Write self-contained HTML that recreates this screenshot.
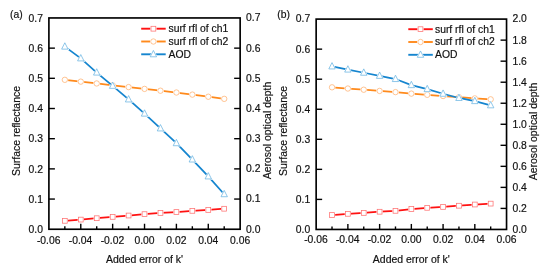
<!DOCTYPE html>
<html><head><meta charset="utf-8"><title>Figure</title>
<style>
html,body{margin:0;padding:0;background:#fff;}
body{width:550px;height:272px;overflow:hidden;}
svg{display:block;filter:blur(0.3px);}
.t{font-family:'Liberation Sans', Arial, sans-serif;font-size:10.35px;fill:#111;stroke:#111;stroke-width:0.18px;}
.a{font-family:'Liberation Sans', Arial, sans-serif;font-size:10.46px;fill:#111;stroke:#111;stroke-width:0.18px;}
</style></head><body>
<svg width="550" height="272" viewBox="0 0 550 272">
<rect width="550" height="272" fill="#fff"/>
<polyline fill="none" stroke="#ff1212" stroke-width="1.75" points="64.84,220.80 80.78,219.59 96.71,218.23 112.65,216.87 128.59,215.52 144.53,214.16 160.46,212.95 176.40,212.04 192.34,210.84 208.28,209.93 224.21,208.72"/>
<rect x="62.44" y="218.40" width="4.80" height="4.80" fill="#fff" stroke="#fff" stroke-width="1.5"/><rect x="62.44" y="218.40" width="4.80" height="4.80" fill="#fff" stroke="#ff7070" stroke-width="0.75"/>
<rect x="78.38" y="217.19" width="4.80" height="4.80" fill="#fff" stroke="#fff" stroke-width="1.5"/><rect x="78.38" y="217.19" width="4.80" height="4.80" fill="#fff" stroke="#ff7070" stroke-width="0.75"/>
<rect x="94.31" y="215.83" width="4.80" height="4.80" fill="#fff" stroke="#fff" stroke-width="1.5"/><rect x="94.31" y="215.83" width="4.80" height="4.80" fill="#fff" stroke="#ff7070" stroke-width="0.75"/>
<rect x="110.25" y="214.47" width="4.80" height="4.80" fill="#fff" stroke="#fff" stroke-width="1.5"/><rect x="110.25" y="214.47" width="4.80" height="4.80" fill="#fff" stroke="#ff7070" stroke-width="0.75"/>
<rect x="126.19" y="213.12" width="4.80" height="4.80" fill="#fff" stroke="#fff" stroke-width="1.5"/><rect x="126.19" y="213.12" width="4.80" height="4.80" fill="#fff" stroke="#ff7070" stroke-width="0.75"/>
<rect x="142.12" y="211.76" width="4.80" height="4.80" fill="#fff" stroke="#fff" stroke-width="1.5"/><rect x="142.12" y="211.76" width="4.80" height="4.80" fill="#fff" stroke="#ff7070" stroke-width="0.75"/>
<rect x="158.06" y="210.55" width="4.80" height="4.80" fill="#fff" stroke="#fff" stroke-width="1.5"/><rect x="158.06" y="210.55" width="4.80" height="4.80" fill="#fff" stroke="#ff7070" stroke-width="0.75"/>
<rect x="174.00" y="209.64" width="4.80" height="4.80" fill="#fff" stroke="#fff" stroke-width="1.5"/><rect x="174.00" y="209.64" width="4.80" height="4.80" fill="#fff" stroke="#ff7070" stroke-width="0.75"/>
<rect x="189.94" y="208.44" width="4.80" height="4.80" fill="#fff" stroke="#fff" stroke-width="1.5"/><rect x="189.94" y="208.44" width="4.80" height="4.80" fill="#fff" stroke="#ff7070" stroke-width="0.75"/>
<rect x="205.88" y="207.53" width="4.80" height="4.80" fill="#fff" stroke="#fff" stroke-width="1.5"/><rect x="205.88" y="207.53" width="4.80" height="4.80" fill="#fff" stroke="#ff7070" stroke-width="0.75"/>
<rect x="221.81" y="206.32" width="4.80" height="4.80" fill="#fff" stroke="#fff" stroke-width="1.5"/><rect x="221.81" y="206.32" width="4.80" height="4.80" fill="#fff" stroke="#ff7070" stroke-width="0.75"/>
<polyline fill="none" stroke="#ff8a1c" stroke-width="1.75" points="64.84,79.83 80.78,81.64 96.71,83.45 112.65,85.26 128.59,87.08 144.53,88.89 160.46,90.70 176.40,92.51 192.34,94.62 208.28,96.73 224.21,98.85"/>
<circle cx="64.84" cy="79.83" r="2.7" fill="#fff" stroke="#fff" stroke-width="1.5"/><circle cx="64.84" cy="79.83" r="2.7" fill="#fff" stroke="#ffb070" stroke-width="0.75"/>
<circle cx="80.78" cy="81.64" r="2.7" fill="#fff" stroke="#fff" stroke-width="1.5"/><circle cx="80.78" cy="81.64" r="2.7" fill="#fff" stroke="#ffb070" stroke-width="0.75"/>
<circle cx="96.71" cy="83.45" r="2.7" fill="#fff" stroke="#fff" stroke-width="1.5"/><circle cx="96.71" cy="83.45" r="2.7" fill="#fff" stroke="#ffb070" stroke-width="0.75"/>
<circle cx="112.65" cy="85.26" r="2.7" fill="#fff" stroke="#fff" stroke-width="1.5"/><circle cx="112.65" cy="85.26" r="2.7" fill="#fff" stroke="#ffb070" stroke-width="0.75"/>
<circle cx="128.59" cy="87.08" r="2.7" fill="#fff" stroke="#fff" stroke-width="1.5"/><circle cx="128.59" cy="87.08" r="2.7" fill="#fff" stroke="#ffb070" stroke-width="0.75"/>
<circle cx="144.53" cy="88.89" r="2.7" fill="#fff" stroke="#fff" stroke-width="1.5"/><circle cx="144.53" cy="88.89" r="2.7" fill="#fff" stroke="#ffb070" stroke-width="0.75"/>
<circle cx="160.46" cy="90.70" r="2.7" fill="#fff" stroke="#fff" stroke-width="1.5"/><circle cx="160.46" cy="90.70" r="2.7" fill="#fff" stroke="#ffb070" stroke-width="0.75"/>
<circle cx="176.40" cy="92.51" r="2.7" fill="#fff" stroke="#fff" stroke-width="1.5"/><circle cx="176.40" cy="92.51" r="2.7" fill="#fff" stroke="#ffb070" stroke-width="0.75"/>
<circle cx="192.34" cy="94.62" r="2.7" fill="#fff" stroke="#fff" stroke-width="1.5"/><circle cx="192.34" cy="94.62" r="2.7" fill="#fff" stroke="#ffb070" stroke-width="0.75"/>
<circle cx="208.28" cy="96.73" r="2.7" fill="#fff" stroke="#fff" stroke-width="1.5"/><circle cx="208.28" cy="96.73" r="2.7" fill="#fff" stroke="#ffb070" stroke-width="0.75"/>
<circle cx="224.21" cy="98.85" r="2.7" fill="#fff" stroke="#fff" stroke-width="1.5"/><circle cx="224.21" cy="98.85" r="2.7" fill="#fff" stroke="#ffb070" stroke-width="0.75"/>
<polyline fill="none" stroke="#1585cf" stroke-width="1.75" points="64.84,46.63 80.78,58.40 96.71,72.59 112.65,85.87 128.59,99.45 144.53,113.64 160.46,128.43 176.40,143.22 192.34,159.52 208.28,176.43 224.21,194.23"/>
<polygon points="64.84,42.78 61.64,49.13 68.04,49.13" fill="#fff" stroke="#fff" stroke-width="1.5"/><polygon points="64.84,42.78 61.64,49.13 68.04,49.13" fill="#fff" stroke="#6ab4e2" stroke-width="0.75"/>
<polygon points="80.78,54.55 77.58,60.90 83.98,60.90" fill="#fff" stroke="#fff" stroke-width="1.5"/><polygon points="80.78,54.55 77.58,60.90 83.98,60.90" fill="#fff" stroke="#6ab4e2" stroke-width="0.75"/>
<polygon points="96.71,68.74 93.51,75.09 99.91,75.09" fill="#fff" stroke="#fff" stroke-width="1.5"/><polygon points="96.71,68.74 93.51,75.09 99.91,75.09" fill="#fff" stroke="#6ab4e2" stroke-width="0.75"/>
<polygon points="112.65,82.02 109.45,88.37 115.85,88.37" fill="#fff" stroke="#fff" stroke-width="1.5"/><polygon points="112.65,82.02 109.45,88.37 115.85,88.37" fill="#fff" stroke="#6ab4e2" stroke-width="0.75"/>
<polygon points="128.59,95.60 125.39,101.95 131.79,101.95" fill="#fff" stroke="#fff" stroke-width="1.5"/><polygon points="128.59,95.60 125.39,101.95 131.79,101.95" fill="#fff" stroke="#6ab4e2" stroke-width="0.75"/>
<polygon points="144.53,109.79 141.33,116.14 147.72,116.14" fill="#fff" stroke="#fff" stroke-width="1.5"/><polygon points="144.53,109.79 141.33,116.14 147.72,116.14" fill="#fff" stroke="#6ab4e2" stroke-width="0.75"/>
<polygon points="160.46,124.58 157.26,130.93 163.66,130.93" fill="#fff" stroke="#fff" stroke-width="1.5"/><polygon points="160.46,124.58 157.26,130.93 163.66,130.93" fill="#fff" stroke="#6ab4e2" stroke-width="0.75"/>
<polygon points="176.40,139.37 173.20,145.72 179.60,145.72" fill="#fff" stroke="#fff" stroke-width="1.5"/><polygon points="176.40,139.37 173.20,145.72 179.60,145.72" fill="#fff" stroke="#6ab4e2" stroke-width="0.75"/>
<polygon points="192.34,155.67 189.14,162.02 195.54,162.02" fill="#fff" stroke="#fff" stroke-width="1.5"/><polygon points="192.34,155.67 189.14,162.02 195.54,162.02" fill="#fff" stroke="#6ab4e2" stroke-width="0.75"/>
<polygon points="208.28,172.58 205.08,178.93 211.47,178.93" fill="#fff" stroke="#fff" stroke-width="1.5"/><polygon points="208.28,172.58 205.08,178.93 211.47,178.93" fill="#fff" stroke="#6ab4e2" stroke-width="0.75"/>
<polygon points="224.21,190.38 221.01,196.73 227.41,196.73" fill="#fff" stroke="#fff" stroke-width="1.5"/><polygon points="224.21,190.38 221.01,196.73 227.41,196.73" fill="#fff" stroke="#6ab4e2" stroke-width="0.75"/>
<rect x="48.90" y="17.95" width="191.25" height="211.30" fill="none" stroke="#000" stroke-width="1.65"/>
<text x="48.70" y="243.55" text-anchor="middle" class="t">-0.06</text>
<line x1="64.84" y1="229.25" x2="64.84" y2="226.25" stroke="#000" stroke-width="1.4"/>
<line x1="80.78" y1="229.25" x2="80.78" y2="223.75" stroke="#000" stroke-width="1.4"/>
<text x="80.58" y="243.55" text-anchor="middle" class="t">-0.04</text>
<line x1="96.71" y1="229.25" x2="96.71" y2="226.25" stroke="#000" stroke-width="1.4"/>
<line x1="112.65" y1="229.25" x2="112.65" y2="223.75" stroke="#000" stroke-width="1.4"/>
<text x="112.45" y="243.55" text-anchor="middle" class="t">-0.02</text>
<line x1="128.59" y1="229.25" x2="128.59" y2="226.25" stroke="#000" stroke-width="1.4"/>
<line x1="144.53" y1="229.25" x2="144.53" y2="223.75" stroke="#000" stroke-width="1.4"/>
<text x="144.53" y="243.55" text-anchor="middle" class="t">0.00</text>
<line x1="160.46" y1="229.25" x2="160.46" y2="226.25" stroke="#000" stroke-width="1.4"/>
<line x1="176.40" y1="229.25" x2="176.40" y2="223.75" stroke="#000" stroke-width="1.4"/>
<text x="176.40" y="243.55" text-anchor="middle" class="t">0.02</text>
<line x1="192.34" y1="229.25" x2="192.34" y2="226.25" stroke="#000" stroke-width="1.4"/>
<line x1="208.28" y1="229.25" x2="208.28" y2="223.75" stroke="#000" stroke-width="1.4"/>
<text x="208.28" y="243.55" text-anchor="middle" class="t">0.04</text>
<line x1="224.21" y1="229.25" x2="224.21" y2="226.25" stroke="#000" stroke-width="1.4"/>
<text x="240.15" y="243.55" text-anchor="middle" class="t">0.06</text>
<text x="42.90" y="233.00" text-anchor="end" class="t">0.0</text>
<line x1="48.90" y1="199.06" x2="54.90" y2="199.06" stroke="#000" stroke-width="1.4"/>
<text x="42.90" y="202.81" text-anchor="end" class="t">0.1</text>
<line x1="48.90" y1="168.88" x2="54.90" y2="168.88" stroke="#000" stroke-width="1.4"/>
<text x="42.90" y="172.63" text-anchor="end" class="t">0.2</text>
<line x1="48.90" y1="138.69" x2="54.90" y2="138.69" stroke="#000" stroke-width="1.4"/>
<text x="42.90" y="142.44" text-anchor="end" class="t">0.3</text>
<line x1="48.90" y1="108.51" x2="54.90" y2="108.51" stroke="#000" stroke-width="1.4"/>
<text x="42.90" y="112.26" text-anchor="end" class="t">0.4</text>
<line x1="48.90" y1="78.32" x2="54.90" y2="78.32" stroke="#000" stroke-width="1.4"/>
<text x="42.90" y="82.07" text-anchor="end" class="t">0.5</text>
<line x1="48.90" y1="48.14" x2="54.90" y2="48.14" stroke="#000" stroke-width="1.4"/>
<text x="42.90" y="51.89" text-anchor="end" class="t">0.6</text>
<text x="42.90" y="21.70" text-anchor="end" class="t">0.7</text>
<text x="246.05" y="232.65" text-anchor="start" class="t">0.0</text>
<line x1="240.15" y1="199.06" x2="234.15" y2="199.06" stroke="#000" stroke-width="1.4"/>
<text x="246.05" y="202.46" text-anchor="start" class="t">0.1</text>
<line x1="240.15" y1="168.88" x2="234.15" y2="168.88" stroke="#000" stroke-width="1.4"/>
<text x="246.05" y="172.28" text-anchor="start" class="t">0.2</text>
<line x1="240.15" y1="138.69" x2="234.15" y2="138.69" stroke="#000" stroke-width="1.4"/>
<text x="246.05" y="142.09" text-anchor="start" class="t">0.3</text>
<line x1="240.15" y1="108.51" x2="234.15" y2="108.51" stroke="#000" stroke-width="1.4"/>
<text x="246.05" y="111.91" text-anchor="start" class="t">0.4</text>
<line x1="240.15" y1="78.32" x2="234.15" y2="78.32" stroke="#000" stroke-width="1.4"/>
<text x="246.05" y="81.72" text-anchor="start" class="t">0.5</text>
<line x1="240.15" y1="48.14" x2="234.15" y2="48.14" stroke="#000" stroke-width="1.4"/>
<text x="246.05" y="51.54" text-anchor="start" class="t">0.6</text>
<text x="246.05" y="21.35" text-anchor="start" class="t">0.7</text>
<text x="10.00" y="18.30" class="t">(a)</text>
<text x="144.53" y="262.55" text-anchor="middle" class="a">Added error of k'</text>
<text transform="translate(19.70,131.00) rotate(-90)" text-anchor="middle" class="a">Surface reflectance</text>
<text transform="translate(270.55,130.50) rotate(-90)" text-anchor="middle" class="a">Aerosol optical depth</text>
<line x1="141.20" y1="28.70" x2="165.70" y2="28.70" stroke="#ff1212" stroke-width="1.9"/>
<rect x="151.00" y="26.30" width="4.80" height="4.80" fill="#fff" stroke="#fff" stroke-width="1.5"/><rect x="151.00" y="26.30" width="4.80" height="4.80" fill="#fff" stroke="#ff7070" stroke-width="0.75"/>
<text x="168.50" y="32.00" class="t">surf rfl of ch1</text>
<line x1="141.20" y1="41.50" x2="165.70" y2="41.50" stroke="#ff8a1c" stroke-width="1.9"/>
<circle cx="153.40" cy="41.50" r="2.7" fill="#fff" stroke="#fff" stroke-width="1.5"/><circle cx="153.40" cy="41.50" r="2.7" fill="#fff" stroke="#ffb070" stroke-width="0.75"/>
<text x="168.50" y="44.80" class="t">surf rfl of ch2</text>
<line x1="141.20" y1="54.30" x2="165.70" y2="54.30" stroke="#1585cf" stroke-width="1.9"/>
<polygon points="153.40,50.45 150.20,56.80 156.60,56.80" fill="#fff" stroke="#fff" stroke-width="1.5"/><polygon points="153.40,50.45 150.20,56.80 156.60,56.80" fill="#fff" stroke="#6ab4e2" stroke-width="0.75"/>
<text x="168.50" y="57.60" class="t">AOD</text>
<polyline fill="none" stroke="#ff1212" stroke-width="1.75" points="332.02,215.03 347.88,213.82 363.75,212.92 379.62,211.72 395.48,210.82 411.35,209.02 427.22,207.81 443.08,206.91 458.95,205.71 474.82,204.51 490.68,203.61"/>
<rect x="329.62" y="212.63" width="4.80" height="4.80" fill="#fff" stroke="#fff" stroke-width="1.5"/><rect x="329.62" y="212.63" width="4.80" height="4.80" fill="#fff" stroke="#ff7070" stroke-width="0.75"/>
<rect x="345.48" y="211.42" width="4.80" height="4.80" fill="#fff" stroke="#fff" stroke-width="1.5"/><rect x="345.48" y="211.42" width="4.80" height="4.80" fill="#fff" stroke="#ff7070" stroke-width="0.75"/>
<rect x="361.35" y="210.52" width="4.80" height="4.80" fill="#fff" stroke="#fff" stroke-width="1.5"/><rect x="361.35" y="210.52" width="4.80" height="4.80" fill="#fff" stroke="#ff7070" stroke-width="0.75"/>
<rect x="377.22" y="209.32" width="4.80" height="4.80" fill="#fff" stroke="#fff" stroke-width="1.5"/><rect x="377.22" y="209.32" width="4.80" height="4.80" fill="#fff" stroke="#ff7070" stroke-width="0.75"/>
<rect x="393.08" y="208.42" width="4.80" height="4.80" fill="#fff" stroke="#fff" stroke-width="1.5"/><rect x="393.08" y="208.42" width="4.80" height="4.80" fill="#fff" stroke="#ff7070" stroke-width="0.75"/>
<rect x="408.95" y="206.62" width="4.80" height="4.80" fill="#fff" stroke="#fff" stroke-width="1.5"/><rect x="408.95" y="206.62" width="4.80" height="4.80" fill="#fff" stroke="#ff7070" stroke-width="0.75"/>
<rect x="424.82" y="205.41" width="4.80" height="4.80" fill="#fff" stroke="#fff" stroke-width="1.5"/><rect x="424.82" y="205.41" width="4.80" height="4.80" fill="#fff" stroke="#ff7070" stroke-width="0.75"/>
<rect x="440.68" y="204.51" width="4.80" height="4.80" fill="#fff" stroke="#fff" stroke-width="1.5"/><rect x="440.68" y="204.51" width="4.80" height="4.80" fill="#fff" stroke="#ff7070" stroke-width="0.75"/>
<rect x="456.55" y="203.31" width="4.80" height="4.80" fill="#fff" stroke="#fff" stroke-width="1.5"/><rect x="456.55" y="203.31" width="4.80" height="4.80" fill="#fff" stroke="#ff7070" stroke-width="0.75"/>
<rect x="472.42" y="202.11" width="4.80" height="4.80" fill="#fff" stroke="#fff" stroke-width="1.5"/><rect x="472.42" y="202.11" width="4.80" height="4.80" fill="#fff" stroke="#ff7070" stroke-width="0.75"/>
<rect x="488.28" y="201.21" width="4.80" height="4.80" fill="#fff" stroke="#fff" stroke-width="1.5"/><rect x="488.28" y="201.21" width="4.80" height="4.80" fill="#fff" stroke="#ff7070" stroke-width="0.75"/>
<polyline fill="none" stroke="#ff8a1c" stroke-width="1.75" points="332.02,87.31 347.88,88.52 363.75,89.72 379.62,90.92 395.48,92.12 411.35,93.62 427.22,94.83 443.08,96.03 458.95,97.23 474.82,98.43 490.68,99.33"/>
<circle cx="332.02" cy="87.31" r="2.7" fill="#fff" stroke="#fff" stroke-width="1.5"/><circle cx="332.02" cy="87.31" r="2.7" fill="#fff" stroke="#ffb070" stroke-width="0.75"/>
<circle cx="347.88" cy="88.52" r="2.7" fill="#fff" stroke="#fff" stroke-width="1.5"/><circle cx="347.88" cy="88.52" r="2.7" fill="#fff" stroke="#ffb070" stroke-width="0.75"/>
<circle cx="363.75" cy="89.72" r="2.7" fill="#fff" stroke="#fff" stroke-width="1.5"/><circle cx="363.75" cy="89.72" r="2.7" fill="#fff" stroke="#ffb070" stroke-width="0.75"/>
<circle cx="379.62" cy="90.92" r="2.7" fill="#fff" stroke="#fff" stroke-width="1.5"/><circle cx="379.62" cy="90.92" r="2.7" fill="#fff" stroke="#ffb070" stroke-width="0.75"/>
<circle cx="395.48" cy="92.12" r="2.7" fill="#fff" stroke="#fff" stroke-width="1.5"/><circle cx="395.48" cy="92.12" r="2.7" fill="#fff" stroke="#ffb070" stroke-width="0.75"/>
<circle cx="411.35" cy="93.62" r="2.7" fill="#fff" stroke="#fff" stroke-width="1.5"/><circle cx="411.35" cy="93.62" r="2.7" fill="#fff" stroke="#ffb070" stroke-width="0.75"/>
<circle cx="427.22" cy="94.83" r="2.7" fill="#fff" stroke="#fff" stroke-width="1.5"/><circle cx="427.22" cy="94.83" r="2.7" fill="#fff" stroke="#ffb070" stroke-width="0.75"/>
<circle cx="443.08" cy="96.03" r="2.7" fill="#fff" stroke="#fff" stroke-width="1.5"/><circle cx="443.08" cy="96.03" r="2.7" fill="#fff" stroke="#ffb070" stroke-width="0.75"/>
<circle cx="458.95" cy="97.23" r="2.7" fill="#fff" stroke="#fff" stroke-width="1.5"/><circle cx="458.95" cy="97.23" r="2.7" fill="#fff" stroke="#ffb070" stroke-width="0.75"/>
<circle cx="474.82" cy="98.43" r="2.7" fill="#fff" stroke="#fff" stroke-width="1.5"/><circle cx="474.82" cy="98.43" r="2.7" fill="#fff" stroke="#ffb070" stroke-width="0.75"/>
<circle cx="490.68" cy="99.33" r="2.7" fill="#fff" stroke="#fff" stroke-width="1.5"/><circle cx="490.68" cy="99.33" r="2.7" fill="#fff" stroke="#ffb070" stroke-width="0.75"/>
<polyline fill="none" stroke="#1585cf" stroke-width="1.75" points="332.02,66.43 347.88,69.58 363.75,72.74 379.62,75.89 395.48,79.05 411.35,85.15 427.22,89.15 443.08,93.77 458.95,97.98 474.82,101.14 490.68,105.34"/>
<polygon points="332.02,62.58 328.82,68.93 335.22,68.93" fill="#fff" stroke="#fff" stroke-width="1.5"/><polygon points="332.02,62.58 328.82,68.93 335.22,68.93" fill="#fff" stroke="#6ab4e2" stroke-width="0.75"/>
<polygon points="347.88,65.73 344.68,72.08 351.08,72.08" fill="#fff" stroke="#fff" stroke-width="1.5"/><polygon points="347.88,65.73 344.68,72.08 351.08,72.08" fill="#fff" stroke="#6ab4e2" stroke-width="0.75"/>
<polygon points="363.75,68.89 360.55,75.24 366.95,75.24" fill="#fff" stroke="#fff" stroke-width="1.5"/><polygon points="363.75,68.89 360.55,75.24 366.95,75.24" fill="#fff" stroke="#6ab4e2" stroke-width="0.75"/>
<polygon points="379.62,72.04 376.42,78.39 382.82,78.39" fill="#fff" stroke="#fff" stroke-width="1.5"/><polygon points="379.62,72.04 376.42,78.39 382.82,78.39" fill="#fff" stroke="#6ab4e2" stroke-width="0.75"/>
<polygon points="395.48,75.20 392.28,81.55 398.68,81.55" fill="#fff" stroke="#fff" stroke-width="1.5"/><polygon points="395.48,75.20 392.28,81.55 398.68,81.55" fill="#fff" stroke="#6ab4e2" stroke-width="0.75"/>
<polygon points="411.35,81.30 408.15,87.65 414.55,87.65" fill="#fff" stroke="#fff" stroke-width="1.5"/><polygon points="411.35,81.30 408.15,87.65 414.55,87.65" fill="#fff" stroke="#6ab4e2" stroke-width="0.75"/>
<polygon points="427.22,85.30 424.02,91.65 430.42,91.65" fill="#fff" stroke="#fff" stroke-width="1.5"/><polygon points="427.22,85.30 424.02,91.65 430.42,91.65" fill="#fff" stroke="#6ab4e2" stroke-width="0.75"/>
<polygon points="443.08,89.92 439.88,96.27 446.28,96.27" fill="#fff" stroke="#fff" stroke-width="1.5"/><polygon points="443.08,89.92 439.88,96.27 446.28,96.27" fill="#fff" stroke="#6ab4e2" stroke-width="0.75"/>
<polygon points="458.95,94.13 455.75,100.48 462.15,100.48" fill="#fff" stroke="#fff" stroke-width="1.5"/><polygon points="458.95,94.13 455.75,100.48 462.15,100.48" fill="#fff" stroke="#6ab4e2" stroke-width="0.75"/>
<polygon points="474.82,97.29 471.62,103.64 478.02,103.64" fill="#fff" stroke="#fff" stroke-width="1.5"/><polygon points="474.82,97.29 471.62,103.64 478.02,103.64" fill="#fff" stroke="#6ab4e2" stroke-width="0.75"/>
<polygon points="490.68,101.49 487.48,107.84 493.88,107.84" fill="#fff" stroke="#fff" stroke-width="1.5"/><polygon points="490.68,101.49 487.48,107.84 493.88,107.84" fill="#fff" stroke="#6ab4e2" stroke-width="0.75"/>
<rect x="316.15" y="19.10" width="190.40" height="210.35" fill="none" stroke="#000" stroke-width="1.65"/>
<text x="315.95" y="243.25" text-anchor="middle" class="t">-0.06</text>
<line x1="332.02" y1="229.45" x2="332.02" y2="226.45" stroke="#000" stroke-width="1.4"/>
<line x1="347.88" y1="229.45" x2="347.88" y2="223.95" stroke="#000" stroke-width="1.4"/>
<text x="347.68" y="243.25" text-anchor="middle" class="t">-0.04</text>
<line x1="363.75" y1="229.45" x2="363.75" y2="226.45" stroke="#000" stroke-width="1.4"/>
<line x1="379.62" y1="229.45" x2="379.62" y2="223.95" stroke="#000" stroke-width="1.4"/>
<text x="379.42" y="243.25" text-anchor="middle" class="t">-0.02</text>
<line x1="395.48" y1="229.45" x2="395.48" y2="226.45" stroke="#000" stroke-width="1.4"/>
<line x1="411.35" y1="229.45" x2="411.35" y2="223.95" stroke="#000" stroke-width="1.4"/>
<text x="411.35" y="243.25" text-anchor="middle" class="t">0.00</text>
<line x1="427.22" y1="229.45" x2="427.22" y2="226.45" stroke="#000" stroke-width="1.4"/>
<line x1="443.08" y1="229.45" x2="443.08" y2="223.95" stroke="#000" stroke-width="1.4"/>
<text x="443.08" y="243.25" text-anchor="middle" class="t">0.02</text>
<line x1="458.95" y1="229.45" x2="458.95" y2="226.45" stroke="#000" stroke-width="1.4"/>
<line x1="474.82" y1="229.45" x2="474.82" y2="223.95" stroke="#000" stroke-width="1.4"/>
<text x="474.82" y="243.25" text-anchor="middle" class="t">0.04</text>
<line x1="490.68" y1="229.45" x2="490.68" y2="226.45" stroke="#000" stroke-width="1.4"/>
<text x="506.55" y="243.25" text-anchor="middle" class="t">0.06</text>
<text x="310.15" y="233.20" text-anchor="end" class="t">0.0</text>
<line x1="316.15" y1="199.40" x2="322.15" y2="199.40" stroke="#000" stroke-width="1.4"/>
<text x="310.15" y="203.15" text-anchor="end" class="t">0.1</text>
<line x1="316.15" y1="169.35" x2="322.15" y2="169.35" stroke="#000" stroke-width="1.4"/>
<text x="310.15" y="173.10" text-anchor="end" class="t">0.2</text>
<line x1="316.15" y1="139.30" x2="322.15" y2="139.30" stroke="#000" stroke-width="1.4"/>
<text x="310.15" y="143.05" text-anchor="end" class="t">0.3</text>
<line x1="316.15" y1="109.25" x2="322.15" y2="109.25" stroke="#000" stroke-width="1.4"/>
<text x="310.15" y="113.00" text-anchor="end" class="t">0.4</text>
<line x1="316.15" y1="79.20" x2="322.15" y2="79.20" stroke="#000" stroke-width="1.4"/>
<text x="310.15" y="82.95" text-anchor="end" class="t">0.5</text>
<line x1="316.15" y1="49.15" x2="322.15" y2="49.15" stroke="#000" stroke-width="1.4"/>
<text x="310.15" y="52.90" text-anchor="end" class="t">0.6</text>
<text x="310.15" y="22.35" text-anchor="end" class="t">0.7</text>
<text x="512.45" y="232.85" text-anchor="start" class="t">0.0</text>
<line x1="506.55" y1="208.41" x2="500.55" y2="208.41" stroke="#000" stroke-width="1.4"/>
<text x="512.45" y="211.81" text-anchor="start" class="t">0.2</text>
<line x1="506.55" y1="187.38" x2="500.55" y2="187.38" stroke="#000" stroke-width="1.4"/>
<text x="512.45" y="190.78" text-anchor="start" class="t">0.4</text>
<line x1="506.55" y1="166.34" x2="500.55" y2="166.34" stroke="#000" stroke-width="1.4"/>
<text x="512.45" y="169.75" text-anchor="start" class="t">0.6</text>
<line x1="506.55" y1="145.31" x2="500.55" y2="145.31" stroke="#000" stroke-width="1.4"/>
<text x="512.45" y="148.71" text-anchor="start" class="t">0.8</text>
<line x1="506.55" y1="124.27" x2="500.55" y2="124.27" stroke="#000" stroke-width="1.4"/>
<text x="512.45" y="127.67" text-anchor="start" class="t">1.0</text>
<line x1="506.55" y1="103.24" x2="500.55" y2="103.24" stroke="#000" stroke-width="1.4"/>
<text x="512.45" y="106.64" text-anchor="start" class="t">1.2</text>
<line x1="506.55" y1="82.21" x2="500.55" y2="82.21" stroke="#000" stroke-width="1.4"/>
<text x="512.45" y="85.61" text-anchor="start" class="t">1.4</text>
<line x1="506.55" y1="61.17" x2="500.55" y2="61.17" stroke="#000" stroke-width="1.4"/>
<text x="512.45" y="64.57" text-anchor="start" class="t">1.6</text>
<line x1="506.55" y1="40.13" x2="500.55" y2="40.13" stroke="#000" stroke-width="1.4"/>
<text x="512.45" y="43.53" text-anchor="start" class="t">1.8</text>
<text x="512.45" y="22.00" text-anchor="start" class="t">2.0</text>
<text x="277.20" y="17.90" class="t">(b)</text>
<text x="411.35" y="262.75" text-anchor="middle" class="a">Added error of k'</text>
<text transform="translate(287.35,131.00) rotate(-90)" text-anchor="middle" class="a">Surface reflectance</text>
<text transform="translate(537.25,131.50) rotate(-90)" text-anchor="middle" class="a">Aerosol optical depth</text>
<line x1="408.30" y1="29.20" x2="432.80" y2="29.20" stroke="#ff1212" stroke-width="1.9"/>
<rect x="418.10" y="26.80" width="4.80" height="4.80" fill="#fff" stroke="#fff" stroke-width="1.5"/><rect x="418.10" y="26.80" width="4.80" height="4.80" fill="#fff" stroke="#ff7070" stroke-width="0.75"/>
<text x="435.00" y="32.50" class="t">surf rfl of ch1</text>
<line x1="408.30" y1="42.00" x2="432.80" y2="42.00" stroke="#ff8a1c" stroke-width="1.9"/>
<circle cx="420.50" cy="42.00" r="2.7" fill="#fff" stroke="#fff" stroke-width="1.5"/><circle cx="420.50" cy="42.00" r="2.7" fill="#fff" stroke="#ffb070" stroke-width="0.75"/>
<text x="435.00" y="45.30" class="t">surf rfl of ch2</text>
<line x1="408.30" y1="54.80" x2="432.80" y2="54.80" stroke="#1585cf" stroke-width="1.9"/>
<polygon points="420.50,50.95 417.30,57.30 423.70,57.30" fill="#fff" stroke="#fff" stroke-width="1.5"/><polygon points="420.50,50.95 417.30,57.30 423.70,57.30" fill="#fff" stroke="#6ab4e2" stroke-width="0.75"/>
<text x="435.00" y="58.10" class="t">AOD</text>
</svg>
</body></html>
